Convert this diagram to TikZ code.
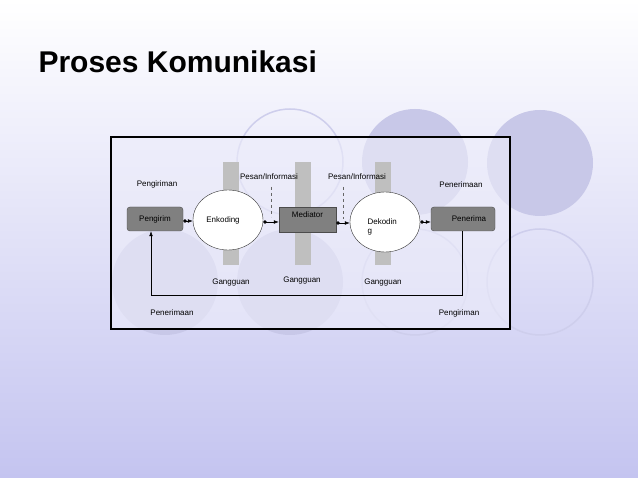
\documentclass[tikz,border=0pt]{standalone}
\usepackage{fontspec}
\setmainfont{Liberation Sans}
\usetikzlibrary{shapes.geometric,arrows.meta}
\definecolor{lav}{RGB}{196,196,240}
\definecolor{lavc}{RGB}{200,200,232}
\definecolor{lavo}{RGB}{206,206,236}
\begin{document}
\begin{tikzpicture}[x=1pt,y=-1pt,
  lbl/.style={font=\fontsize{8}{9.5}\selectfont},
  graybox/.style={draw=black!70,fill=black!50,minimum height=24pt,font=\fontsize{8}{9.5}\selectfont,inner sep=1pt},
  oval/.style={ellipse,draw=black!80,fill=white,minimum width=70pt,minimum height=60pt,font=\fontsize{8}{9.5}\selectfont},
  bar/.style={fill=black!25,draw=none},
  bgc/.style={fill=lavc},
  bgo/.style={draw=lavo,line width=1.5pt}]
\shade[top color=white,bottom color=lav] (0,0) rectangle (638,478);
\useasboundingbox (0,0) rectangle (638,478);
\fill[bgc] (415,162) circle (53);
\fill[bgc] (540,163) circle (53);
\fill[bgc] (165,282) circle (53);
\fill[bgc] (290,282) circle (53);
\draw[bgo] (290,162) circle (53);
\draw[bgo] (540,282) circle (53);
\draw[bgo] (415,282) circle (53);
\node[anchor=west,font=\bfseries\fontsize{30}{34}\selectfont] (title) at (35,62) {Proses Komunikasi};
\draw[line width=2.2pt,fill=lav!30,fill opacity=0.6] (111,137) rectangle (510,329);
\fill[bar] (223,162) rectangle (239,265);
\fill[bar] (295,162) rectangle (311,265);
\fill[bar] (375,162) rectangle (391,265);
\node[graybox,rounded corners=3pt,minimum width=56pt] (pg) at (155,219) {Pengirim};
\node[oval] (enk) at (228,220) {\hspace*{-10pt}Enkoding};
\node[graybox,minimum width=57pt,minimum height=25pt,anchor=north] (med) at (307.5,207) {};
\node[lbl] at (307.5,215) {Mediator};
\node[oval] (dek) at (385,222) {};
\node[lbl,align=left,anchor=north west] at (364,215) {Dekodin\\g};
\node[graybox,rounded corners=3pt,minimum width=64pt] (pn) at (463,219) {\hspace*{12pt}Penerima};
\coordinate (d1) at (271,187); \coordinate (d1b) at (271,217);
\coordinate (d2) at (343,187); \coordinate (d2b) at (343,219);
\draw[dashed,black!60] (d1) -- (d1b);
\draw[dashed,black!60] (d2) -- (d2b);
\tikzset{fl/.style={line width=0.6pt,{Circle[length=3.5pt]}-{Latex[length=5pt]}}}
\draw[fl] (pg.east |- 0,221) -- (enk.west |- 0,221);
\draw[fl] (enk.east |- 0,222) -- (med.west |- 0,222);
\draw[fl] (med.east |- 0,223) -- (dek.west |- 0,223);
\draw[fl] (dek.east |- 0,222) -- (pn.west |- 0,222);
\coordinate (f1) at (462,295); \coordinate (f2) at (151,295);
\draw[line width=0.6pt,-{Latex[length=5pt]}] (pn.south -| f1) -- (f1) -- (f2) -- (pg.south -| f2);
\node[lbl] (l1) at (157,184) {Pengiriman};
\node[lbl] (l2) at (269,177) {Pesan/Informasi};
\node[lbl] (l3) at (357,177) {Pesan/Informasi};
\node[lbl] (l4) at (461,185) {Penerimaan};
\node[lbl] (g1) at (231,283) {Gangguan};
\node[lbl] (g2) at (302,281) {Gangguan};
\node[lbl] (g3) at (383,283) {Gangguan};
\node[lbl] (l5) at (172,313) {Penerimaan};
\node[lbl] (l6) at (459,313) {Pengiriman};
\end{tikzpicture}
\end{document}
